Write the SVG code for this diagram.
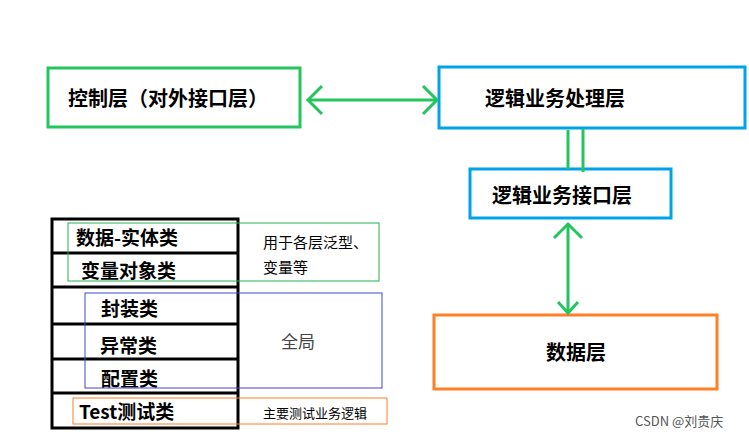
<svg xmlns="http://www.w3.org/2000/svg" width="749" height="438" viewBox="0 0 749 438">
<style>
text{font-family:"Noto Sans CJK SC","Liberation Sans",sans-serif;fill:#000}
.b{font-weight:bold;font-size:20px}
.t{font-weight:bold;font-size:19px}
.g{stroke:#22c55e;stroke-width:3;fill:none}
.bl{stroke:#00a2e8;stroke-width:3;fill:none}
.k{stroke:#000;stroke-width:3;fill:none}
</style>
<rect width="749" height="438" fill="#fff"/>
<g id="control"><rect x="48" y="68" width="252" height="59" class="g" stroke="#22b14c"/><text x="68" y="106" class="b">控制层（对外接口层）</text></g>
<g id="logic"><rect x="439" y="67" width="306" height="61" class="bl"/><text x="485" y="106" class="b">逻辑业务处理层</text></g>
<g id="iface"><rect x="470" y="169" width="201" height="49" class="bl"/><text x="492" y="203" class="b">逻辑业务接口层</text></g>
<g id="data"><rect x="434" y="315" width="283" height="74" stroke="#ff7f27" stroke-width="3" fill="none"/><text x="546" y="360" class="b">数据层</text></g>
<g id="connectors" class="g">
<line x1="308" y1="100" x2="437" y2="100"/><polyline points="322,86 308,100 322,114"/><polyline points="423,86 437,100 423,114"/>
<line x1="568" y1="130" x2="568" y2="169"/><line x1="583" y1="129" x2="583" y2="172"/>
<line x1="568" y1="224" x2="568" y2="313"/><polyline points="554,238 568,224 582,238"/><polyline points="558,302 568,313 578,302"/>
</g>
<g id="table">
<rect x="52" y="219" width="186" height="209" class="k"/>
<g class="k"><line x1="52" y1="253" x2="238" y2="253"/><line x1="52" y1="287" x2="238" y2="287"/><line x1="52" y1="324" x2="238" y2="324"/><line x1="52" y1="359" x2="238" y2="359"/><line x1="52" y1="393" x2="238" y2="393"/></g>
<text x="76" y="245" class="t">数据-实体类</text>
<text x="81" y="278" class="t">变量对象类</text>
<text x="101" y="316" class="t">封装类</text>
<text x="100" y="353" class="t">异常类</text>
<text x="101" y="386" class="t">配置类</text>
<text x="79" y="419" class="t">Test测试类</text>
</g>
<g id="notes">
<rect x="68" y="223" width="311" height="58" fill="none" stroke="#22b14c" stroke-width="1"/>
<rect x="85" y="293" width="297" height="95" fill="none" stroke="#3f48cc" stroke-width="1"/>
<rect x="73" y="398" width="314" height="26" fill="none" stroke="#ff7f27" stroke-width="1"/>
<text x="263" y="248" font-size="15">用于各层泛型、</text>
<text x="263" y="273" font-size="15">变量等</text>
<text x="281" y="348" font-size="17" style="fill:#444">全局</text>
<text x="263" y="418" font-size="13">主要测试业务逻辑</text>
</g>
<text x="635" y="426" font-size="13" style="fill:#555">CSDN @刘贵庆</text>
</svg>
